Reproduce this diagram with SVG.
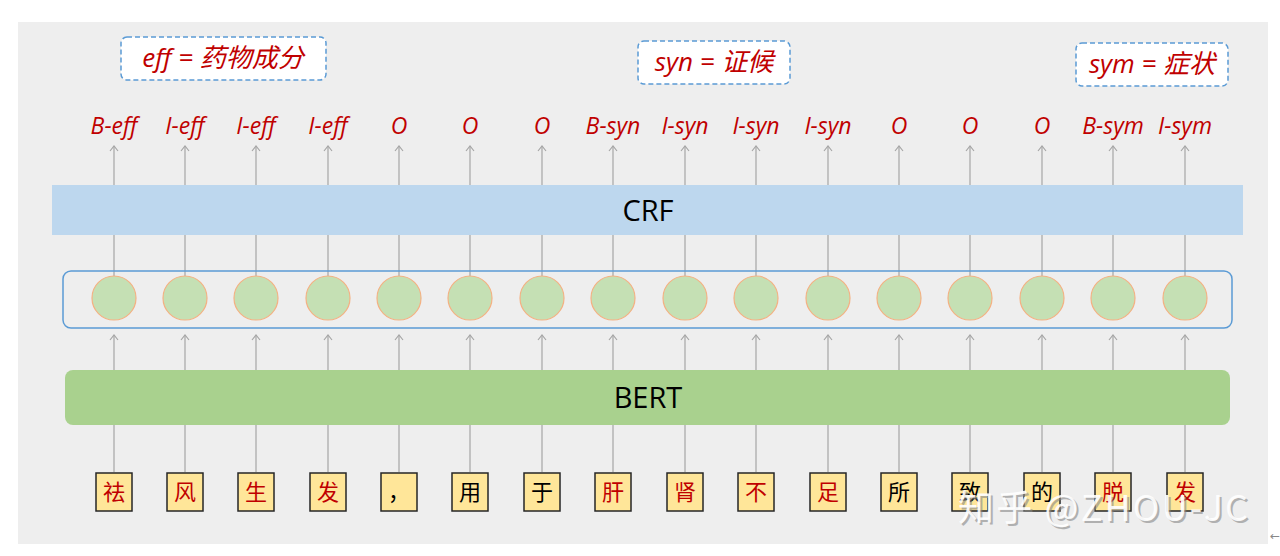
<svg xmlns="http://www.w3.org/2000/svg" width="1280" height="556" viewBox="0 0 1280 556">
<defs>
<style>
.tag{font-family:"Open Sans","Noto Sans CJK SC",sans-serif;font-style:italic;font-size:23px;fill:#C00000;text-anchor:middle}
.lg{font-size:26px}
.ln line{stroke:#A6A6A6;stroke-width:1.2}
.ar line{marker-end:url(#ah)}
.box{fill:#FFE699;stroke:#262626;stroke-width:1.5}
.ch{font-family:"Noto Sans CJK SC",sans-serif;font-size:22px;text-anchor:middle}
.node{fill:#C5E0B4;stroke:#F4B183;stroke-width:1.2}
.leg{fill:#fff;stroke:#5B9BD5;stroke-width:1.5;stroke-dasharray:5 3}
</style>
<marker id="ah" viewBox="0 0 10 10" refX="9" refY="5" markerWidth="10" markerHeight="10" orient="auto" markerUnits="userSpaceOnUse"><path d="M4,1 L9,5 L4,9" fill="none" stroke="#A6A6A6" stroke-width="1.2"/></marker>
</defs>
<rect width="1280" height="556" fill="#fff"/>
<rect x="18" y="22" width="1250" height="522" fill="#EEEEEE"/>
<g id="legend-eff"><rect class="leg" x="121" y="37" width="205" height="43" rx="6"/><text class="tag lg" x="223" y="67">eff = 药物成分</text></g>
<g id="legend-syn"><rect class="leg" x="638" y="41" width="152" height="43" rx="6"/><text class="tag lg" x="714" y="71">syn = 证候</text></g>
<g id="legend-sym"><rect class="leg" x="1076" y="43" width="152" height="43" rx="6"/><text class="tag lg" x="1152" y="73">sym = 症状</text></g>
<g id="connectors" class="ln">
<g class="ar">
<line x1="114" y1="185" x2="114" y2="146"/><line x1="185" y1="185" x2="185" y2="146"/><line x1="256" y1="185" x2="256" y2="146"/><line x1="328" y1="185" x2="328" y2="146"/><line x1="399" y1="185" x2="399" y2="146"/><line x1="470" y1="185" x2="470" y2="146"/><line x1="542" y1="185" x2="542" y2="146"/><line x1="613" y1="185" x2="613" y2="146"/><line x1="685" y1="185" x2="685" y2="146"/><line x1="756" y1="185" x2="756" y2="146"/><line x1="828" y1="185" x2="828" y2="146"/><line x1="899" y1="185" x2="899" y2="146"/><line x1="970" y1="185" x2="970" y2="146"/><line x1="1042" y1="185" x2="1042" y2="146"/><line x1="1113" y1="185" x2="1113" y2="146"/><line x1="1185" y1="185" x2="1185" y2="146"/>
<line x1="114" y1="370" x2="114" y2="335"/><line x1="185" y1="370" x2="185" y2="335"/><line x1="256" y1="370" x2="256" y2="335"/><line x1="328" y1="370" x2="328" y2="335"/><line x1="399" y1="370" x2="399" y2="335"/><line x1="470" y1="370" x2="470" y2="335"/><line x1="542" y1="370" x2="542" y2="335"/><line x1="613" y1="370" x2="613" y2="335"/><line x1="685" y1="370" x2="685" y2="335"/><line x1="756" y1="370" x2="756" y2="335"/><line x1="828" y1="370" x2="828" y2="335"/><line x1="899" y1="370" x2="899" y2="335"/><line x1="970" y1="370" x2="970" y2="335"/><line x1="1042" y1="370" x2="1042" y2="335"/><line x1="1113" y1="370" x2="1113" y2="335"/><line x1="1185" y1="370" x2="1185" y2="335"/>
</g>
<path stroke="#A6A6A6" stroke-width="1.2" d="M114,235V276M185,235V276M256,235V276M328,235V276M399,235V276M470,235V276M542,235V276M613,235V276M685,235V276M756,235V276M828,235V276M899,235V276M970,235V276M1042,235V276M1113,235V276M1185,235V276M114,425V472M185,425V472M256,425V472M328,425V472M399,425V472M470,425V472M542,425V472M613,425V472M685,425V472M756,425V472M828,425V472M899,425V472M970,425V472M1042,425V472M1113,425V472M1185,425V472"/>
</g>
<g id="tags">
<text class="tag" x="114" y="134">B-eff</text><text class="tag" x="185" y="134">I-eff</text><text class="tag" x="256" y="134">I-eff</text><text class="tag" x="328" y="134">I-eff</text><text class="tag" x="399" y="134">O</text><text class="tag" x="470" y="134">O</text><text class="tag" x="542" y="134">O</text><text class="tag" x="613" y="134">B-syn</text><text class="tag" x="685" y="134">I-syn</text><text class="tag" x="756" y="134">I-syn</text><text class="tag" x="828" y="134">I-syn</text><text class="tag" x="899" y="134">O</text><text class="tag" x="970" y="134">O</text><text class="tag" x="1042" y="134">O</text><text class="tag" x="1113" y="134">B-sym</text><text class="tag" x="1185" y="134">I-sym</text>
</g>
<g id="crf"><rect x="52" y="185" width="1191" height="50" fill="#BDD7EE"/><text x="648" y="221" font-family="'Open Sans',sans-serif" font-size="29" text-anchor="middle" fill="#000">CRF</text></g>
<g id="hidden"><rect x="63" y="271" width="1169" height="57" rx="8" fill="none" stroke="#5B9BD5" stroke-width="1.5"/>
<circle class="node" cx="114" cy="298" r="22"/><circle class="node" cx="185" cy="298" r="22"/><circle class="node" cx="256" cy="298" r="22"/><circle class="node" cx="328" cy="298" r="22"/><circle class="node" cx="399" cy="298" r="22"/><circle class="node" cx="470" cy="298" r="22"/><circle class="node" cx="542" cy="298" r="22"/><circle class="node" cx="613" cy="298" r="22"/><circle class="node" cx="685" cy="298" r="22"/><circle class="node" cx="756" cy="298" r="22"/><circle class="node" cx="828" cy="298" r="22"/><circle class="node" cx="899" cy="298" r="22"/><circle class="node" cx="970" cy="298" r="22"/><circle class="node" cx="1042" cy="298" r="22"/><circle class="node" cx="1113" cy="298" r="22"/><circle class="node" cx="1185" cy="298" r="22"/></g>
<g id="bert"><rect x="65" y="370" width="1165" height="55" rx="8" fill="#A9D18E"/><text x="648" y="408" font-family="'Open Sans',sans-serif" font-size="29" text-anchor="middle" fill="#000">BERT</text></g>
<g id="tokens">
<rect class="box" x="96" y="473" width="36" height="38"/><text class="ch" x="114" y="500" fill="#C00000">祛</text>
<rect class="box" x="167" y="473" width="36" height="38"/><text class="ch" x="185" y="500" fill="#C00000">风</text>
<rect class="box" x="238" y="473" width="36" height="38"/><text class="ch" x="256" y="500" fill="#C00000">生</text>
<rect class="box" x="310" y="473" width="36" height="38"/><text class="ch" x="328" y="500" fill="#C00000">发</text>
<rect class="box" x="381" y="473" width="36" height="38"/><text class="ch" x="399" y="500">，</text>
<rect class="box" x="452" y="473" width="36" height="38"/><text class="ch" x="470" y="500">用</text>
<rect class="box" x="524" y="473" width="36" height="38"/><text class="ch" x="542" y="500">于</text>
<rect class="box" x="595" y="473" width="36" height="38"/><text class="ch" x="613" y="500" fill="#C00000">肝</text>
<rect class="box" x="667" y="473" width="36" height="38"/><text class="ch" x="685" y="500" fill="#C00000">肾</text>
<rect class="box" x="738" y="473" width="36" height="38"/><text class="ch" x="756" y="500" fill="#C00000">不</text>
<rect class="box" x="810" y="473" width="36" height="38"/><text class="ch" x="828" y="500" fill="#C00000">足</text>
<rect class="box" x="881" y="473" width="36" height="38"/><text class="ch" x="899" y="500">所</text>
<rect class="box" x="952" y="473" width="36" height="38"/><text class="ch" x="970" y="500">致</text>
<rect class="box" x="1024" y="473" width="36" height="38"/><text class="ch" x="1042" y="500">的</text>
<rect class="box" x="1095" y="473" width="36" height="38"/><text class="ch" x="1113" y="500" fill="#C00000">脱</text>
<rect class="box" x="1167" y="473" width="36" height="38"/><text class="ch" x="1185" y="500" fill="#C00000">发</text>
</g>
<g id="watermark" font-family="'Noto Sans CJK SC',sans-serif" font-size="36">
<text x="960" y="523" fill="#888" opacity="0.6" textLength="290">知乎 @ZHOU-JC</text>
<text x="958" y="521" fill="#fff" opacity="0.9" textLength="290">知乎 @ZHOU-JC</text>
</g>
<text x="1270" y="540" font-family="'DejaVu Sans',sans-serif" font-size="12" fill="#888">←</text>
</svg>
